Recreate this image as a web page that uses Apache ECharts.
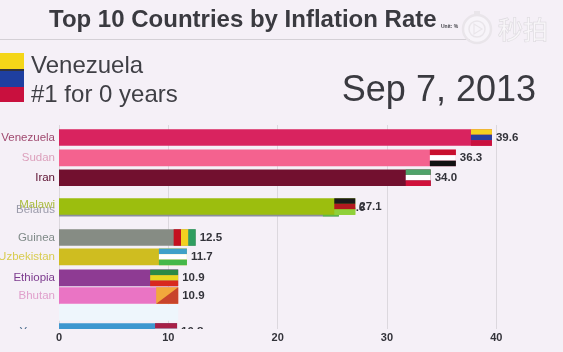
<!DOCTYPE html>
<html>
<head>
<meta charset="utf-8">
<title>Top 10 Countries by Inflation Rate</title>
<style>
html, body { margin: 0; padding: 0; background: #f5f0f7; }
#chartData { width: 563px; height: 352px; }
</style>
<script src="https://cdn.jsdelivr.net/npm/echarts@6/dist/echarts.min.js"></script>
</head>
<body>
<div id="chartData"></div>
<script>
// draw order is back to front, Belarus sits behind Malawi
var countries = ['Venezuela', 'Sudan', 'Iran', 'Belarus', 'Malawi', 'Guinea', 'Uzbekistan', 'Ethiopia', 'Bhutan', '', 'Yemen'];
var inflation = [39.6, 36.3, 34.0, 25.6, 27.1, 12.5, 11.7, 10.9, 10.9, 10.9, 10.8];
// rank while the bars are moving, so not whole numbers
var ranks = [1, 2.01, 2.99, 4.5, 4.42, 5.95, 6.91, 7.95, 8.82, 9.66, 10.6];
// names of Belarus and Malawi overlap but not exactly
var nameRanks = [1, 2.01, 2.99, 4.57, 4.35, 5.95, 6.91, 7.95, 8.82, 9.66, 10.6];
var valueTicks = [0, 10, 20, 30, 40];

var barColors = ['#d9235f', '#f4628f', '#72102f', '#8b8f9c', '#9cbe0e', '#868c84', '#cfbd20', '#8e3b93', '#ea74c4', '#eef6fc', '#3f97cf'];
var labelColors = ['#a04a70', '#dca0bc', '#5c1030', '#9a9aaa', '#a9bb3c', '#7f8a88', '#d8cc50', '#7c3a8e', '#e0a0cc', '#ffffff', '#4f6f90'];
var flagWidths = [21, 26, 25, 16, 21, 22, 28, 28, 22, 0, 22];
var flagStripes = [
    ['#f4d21f', '#27409f', '#c9103e'],
    ['#c8102e', '#ffffff', '#111111'],
    ['#4fa36a', '#ffffff', '#d0103a'],
    ['#c8313e', '#5cb84a'],
    ['#1a1a1a', '#b3191f', '#8fd13a'],
    ['#c4101f', '#f2d020', '#2f9e60'],
    ['#3fa0c8', '#ffffff', '#45b84a'],
    ['#2c8a45', '#e8d820', '#d8281f'],
    ['#f2a83c', '#c8442c'],
    [],
    ['#a81f46', '#ffffff', '#222222']
];
var verticalFlags = ['Guinea'];
var diagonalFlags = ['Bhutan'];

function renderBar(params, api) {
    var i = params.dataIndex;
    var name = countries[i];
    var end = api.coord([api.value(0), api.value(1)]);
    var start = api.coord([0, api.value(1)]);
    var h = api.size([0, 0.82])[1];
    var children = [{
        type: 'rect',
        shape: { x: start[0], y: end[1] - h / 2, width: end[0] - start[0], height: h },
        style: { fill: barColors[i] }
    }];

    var stripes = flagStripes[i];
    var fw = flagWidths[i];
    var fx = end[0] - fw;
    var fy = end[1] - h / 2;
    if (diagonalFlags.indexOf(name) >= 0) {
        children.push({ type: 'rect', shape: { x: fx, y: fy, width: fw, height: h }, style: { fill: stripes[0] } });
        children.push({
            type: 'polygon',
            shape: { points: [[fx, fy + h], [fx + fw, fy], [fx + fw, fy + h]] },
            style: { fill: stripes[1] }
        });
    } else {
        for (var s = 0; s < stripes.length; s++) {
            if (verticalFlags.indexOf(name) >= 0) {
                children.push({
                    type: 'rect',
                    shape: { x: fx + s * fw / stripes.length, y: fy, width: fw / stripes.length, height: h },
                    style: { fill: stripes[s] }
                });
            } else {
                children.push({
                    type: 'rect',
                    shape: { x: fx, y: fy + s * h / stripes.length, width: fw, height: h / stripes.length },
                    style: { fill: stripes[s] }
                });
            }
        }
    }

    if (name) {
        children.push({
            type: 'text',
            style: {
                x: end[0] + 4,
                y: end[1],
                text: api.value(0).toFixed(1),
                fill: '#33333a',
                font: 'bold 11.5px "Liberation Sans"',
                align: 'left',
                verticalAlign: 'middle'
            }
        });
    }
    return { type: 'group', children: children };
}

function renderName(params, api) {
    var i = params.dataIndex;
    var pos = api.coord([api.value(0), api.value(1)]);
    return {
        type: 'text',
        style: {
            x: pos[0],
            y: pos[1],
            text: countries[i],
            fill: labelColors[i],
            font: '11.5px "Liberation Sans"',
            align: 'right',
            verticalAlign: 'middle'
        }
    };
}

var barData = inflation.map(function (v, i) { return [v, ranks[i]]; });
var nameData = nameRanks.map(function (r) { return [55, r]; });

var myChart = echarts.init(document.getElementById('chartData'));

var option = {
    animation: false,
    backgroundColor: '#f5f0f7',
    title: {
        text: 'Top 10 Countries by Inflation Rate',
        left: 49,
        top: 8,
        padding: 0,
        textStyle: { color: '#3a3a40', fontFamily: 'Liberation Sans', fontWeight: 'bold', fontSize: 24 }
    },
    grid: [
        { left: 59, right: -1, top: 125, bottom: 23 },
        { left: 0, width: 59, top: 125, bottom: 23 }
    ],
    xAxis: [
        {
            type: 'value',
            gridIndex: 0,
            min: valueTicks[0],
            max: 46.1,
            interval: 10,
            axisLine: { show: false },
            axisTick: { show: false },
            splitLine: { lineStyle: { color: '#dcd8de', width: 1 } },
            axisLabel: {
                showMaxLabel: false,
                margin: 3,
                color: '#33333a',
                fontFamily: 'Liberation Sans',
                fontWeight: 'bold',
                fontSize: 11
            }
        },
        { type: 'value', gridIndex: 1, min: 0, max: 59, show: false }
    ],
    yAxis: [
        { type: 'value', gridIndex: 0, inverse: true, min: 0.381, max: 10.48, show: false },
        { type: 'value', gridIndex: 1, inverse: true, min: 0.381, max: 10.48, show: false }
    ],
    series: [
        {
            type: 'custom',
            xAxisIndex: 0,
            yAxisIndex: 0,
            clip: true,
            renderItem: renderBar,
            data: barData
        },
        {
            type: 'custom',
            xAxisIndex: 1,
            yAxisIndex: 1,
            clip: true,
            renderItem: renderName,
            data: nameData
        }
    ],
    graphic: [
        // line under the title
        { type: 'rect', silent: true, shape: { x: 0, y: 39, width: 470, height: 1 }, style: { fill: '#d4d0d6' } },
        { type: 'text', style: { x: 441, y: 24, text: 'Unit: %', fill: '#44444a', font: 'bold 5px "Liberation Sans"' } },

        // leader block
        { type: 'rect', shape: { x: 0, y: 53, width: 24, height: 17 }, style: { fill: '#f4d618' } },
        { type: 'rect', shape: { x: 0, y: 70, width: 24, height: 17 }, style: { fill: '#1f3fa0' } },
        { type: 'rect', shape: { x: 0, y: 69, width: 24, height: 2 }, style: { fill: '#33333a' } },
        { type: 'rect', shape: { x: 0, y: 87, width: 24, height: 15 }, style: { fill: '#c9103e' } },
        { type: 'text', style: { x: 31, y: 66, text: 'Venezuela', fill: '#3f3f45', font: '24px "Liberation Sans"', verticalAlign: 'middle' } },
        { type: 'text', style: { x: 31, y: 95, text: '#1 for 0 years', fill: '#3f3f45', font: '24px "Liberation Sans"', verticalAlign: 'middle' } },
        { type: 'text', style: { x: 536, y: 91, text: 'Sep 7, 2013', fill: '#3a3a40', font: '36px "Liberation Sans"', align: 'right', verticalAlign: 'middle' } },

        // watermark
        { type: 'rect', shape: { x: 474, y: 11, width: 6, height: 4 }, style: { fill: '#e9e5ea' } },
        { type: 'circle', shape: { cx: 477, cy: 29, r: 14 }, style: { fill: 'rgba(255,255,255,0.25)', stroke: '#e9e5ea', lineWidth: 2.5 } },
        { type: 'circle', shape: { cx: 477, cy: 29, r: 8 }, style: { fill: 'none', stroke: '#e9e5ea', lineWidth: 1.5 } },
        { type: 'polygon', shape: { points: [[474, 24], [474, 34], [482, 29]] }, style: { fill: 'none', stroke: '#e9e5ea', lineWidth: 1.2 } },
        { type: 'text', style: { x: 498, y: 29, text: '秒拍', fill: 'rgba(255,255,255,0.55)', stroke: '#dcd8de', lineWidth: 1, font: '25px "Noto Sans CJK SC"', verticalAlign: 'middle' } }
    ]
};

myChart.setOption(option);
</script>
</body>
</html>
